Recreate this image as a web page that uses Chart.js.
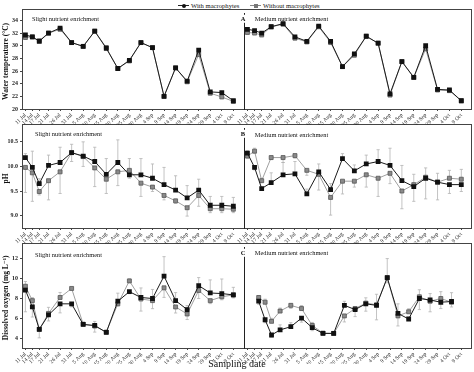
<!DOCTYPE html>
<html><head><meta charset="utf-8">
<script src="https://cdn.jsdelivr.net/npm/chart.js@4"></script>
<style>
html,body{margin:0;padding:0;background:#fff;}
body{width:474px;height:372px;position:relative;overflow:hidden;font-family:"Liberation Serif",serif;color:#111;}
canvas{position:absolute;}
.frame{position:absolute;border:1px solid #444;box-sizing:border-box;pointer-events:none;}
.lg{position:absolute;font-size:6.6px;line-height:8px;white-space:nowrap;}
.ln{position:absolute;height:1px;}
.mk{position:absolute;}
#xt{position:absolute;left:0;width:474px;top:358px;text-align:center;font-size:10px;line-height:12px;}
</style></head><body>

<div class="ln" style="left:178px;top:5px;width:11px;background:#222"></div>
<div class="mk" style="left:181.5px;top:3.5px;width:4px;height:4px;border-radius:2px;background:#111"></div>
<div class="lg" style="left:191px;top:1.5px">With macrophytes</div>
<div class="ln" style="left:250px;top:5px;width:11px;background:#888"></div>
<div class="mk" style="left:253.5px;top:3.5px;width:4px;height:4px;background:#777"></div>
<div class="lg" style="left:263px;top:1.5px">Without macrophytes</div>

<div class="frame" style="left:22px;top:9px;width:450px;height:101px"></div>
<div class="frame" style="left:22px;top:124px;width:450px;height:105px"></div>
<div class="frame" style="left:22px;top:243px;width:450px;height:106px"></div>

<canvas id="c1" width="243" height="116" style="left:0;top:9px"></canvas>
<canvas id="c2" width="235" height="116" style="left:236px;top:9px"></canvas>
<canvas id="c3" width="243" height="120" style="left:0;top:124px"></canvas>
<canvas id="c4" width="235" height="120" style="left:236px;top:124px"></canvas>
<canvas id="c5" width="243" height="121" style="left:0;top:243px"></canvas>
<canvas id="c6" width="235" height="121" style="left:236px;top:243px"></canvas>

<div id="xt">Sampling date</div>

<script>
// ---------- DATA ----------
const dateLabels = ['11 Jul','14 Jul','17 Jul','21 Jul','26 Jul','31 Jul','5 Aug','10 Aug','15 Aug','20 Aug','25 Aug','30 Aug','4 Sep','9 Sep','14 Sep','19 Sep','24 Sep','29 Sep','4 Oct','9 Oct'];
const sampleDays = [0,3,6,10,15,20,25,30,35,40,45,50,55,60,65,70,75,80,85,90];
const seriesNames = ['With macrophytes','Without macrophytes'];
const panelNames = ['Slight nutrient enrichment','Medium nutrient enrichment'];
const panelLetters = ['A','B','C'];

const tempTicks = [20,22,24,26,28,30,32,34];
const phTicks = [9.0,9.5,10.0,10.5];
const doTicks = [4,6,8,10,12];

const tempSlightWith    = [31.7,31.4,30.7,32.0,32.8,30.5,29.9,32.3,29.6,26.4,27.7,30.5,29.7,22.0,26.5,24.4,29.3,22.7,22.6,21.3];
const tempSlightWithout = [31.3,31.4,30.8,32.0,32.6,30.5,29.9,32.3,29.7,26.4,27.6,30.5,29.7,22.0,26.5,24.3,28.6,22.5,21.9,21.2];
const tempMediumWith    = [32.6,32.4,32.0,33.0,33.5,31.4,30.7,33.1,30.7,26.7,28.7,31.5,30.4,22.4,27.5,25.0,30.0,23.1,23.0,21.3];
const tempMediumWithout = [32.1,32.0,31.7,33.0,33.4,31.2,30.6,33.0,30.5,26.7,28.5,31.5,30.4,22.2,27.5,25.0,29.5,23.0,22.9,21.3];

const phSlightWith    = [10.18,9.98,9.65,10.02,10.08,10.28,10.21,10.10,9.84,10.08,9.83,9.83,9.76,9.63,9.52,9.36,9.52,9.21,9.21,9.19];
const phSlightWithout = [9.98,9.87,9.49,9.71,9.89,10.28,10.20,9.97,9.74,9.89,9.92,9.66,9.58,9.41,9.30,9.16,9.41,9.14,9.14,9.13];
const phSlightWithErr    = [0.08,0.33,0.1,0.21,0.31,0.17,0.29,0.29,0.32,0.46,-0.07,0.33,0.29,0.35,0.29,0.25,0.22,0.18,0.18,0.18];
const phSlightWithoutErr = [-0.51,-0.58,-0.07,-0.39,-0.44,-0.18,-0.2,-0.38,-0.29,-0.28,0.24,-0.27,-0.09,-0.09,-0.05,-0.17,-0.22,-0.08,-0.08,-0.07];
const phMediumWith    = [10.27,9.98,9.55,9.67,9.83,9.85,9.44,9.89,9.53,10.16,9.91,10.05,10.10,10.02,9.71,9.59,9.76,9.68,9.63,9.63];
const phMediumWithout = [10.21,10.31,9.71,10.18,10.18,10.22,9.92,9.84,9.37,9.70,9.70,9.83,9.76,9.86,9.50,9.63,9.78,9.68,9.76,9.74];
const phMediumWithErr    = [0.05,-0.05,-0.04,0.2,0.25,0.25,0.1,0.16,0.12,0.1,0.12,0.18,0.24,0.35,0.31,-0.3,-0.42,0.18,-0.18,-0.14];
const phMediumWithoutErr = [-0.04,0.06,0.05,-0.04,-0.1,-0.05,-0.1,-0.32,-0.36,-0.26,-0.12,-0.25,-0.37,-0.21,-0.36,0.21,0.19,-0.36,0.16,0.2];

const doSlightWith    = [8.84,7.16,4.94,6.37,7.47,7.47,5.42,5.32,4.63,7.73,8.68,8.10,8.00,10.23,7.79,6.90,9.28,8.55,8.49,8.36];
const doSlightWithout = [9.22,7.79,4.94,6.52,8.10,9.00,5.45,5.26,4.66,7.47,9.75,7.95,7.79,9.06,7.16,6.46,8.80,7.79,8.17,8.36];
const doSlightWithErr    = [-2.16,-1.0,-0.85,-0.6,-0.9,-0.3,0.15,0.4,0.1,0.8,-0.2,0.95,0.9,1.93,0.8,0.4,0.8,1.3,1.45,0.75];
const doSlightWithoutErr = [0.47,0.3,0.2,0.6,0.5,0.1,-0.15,-0.6,-0.15,-0.2,0.2,-1.2,-0.8,-0.95,-0.6,-0.55,-0.8,-0.3,-0.3,-0.3];
const doMediumWith    = [7.73,5.89,4.37,4.88,5.20,6.05,5.10,4.53,4.53,7.32,6.90,7.47,7.32,10.07,6.52,5.96,8.00,7.85,7.63,7.70];
const doMediumWithout = [8.10,7.63,5.73,6.75,7.32,7.00,5.32,4.56,4.53,6.27,7.00,7.54,7.38,10.07,6.27,6.68,8.17,7.73,8.00,7.63];
const doMediumWithErr    = [-0.3,-0.3,-0.2,0.5,0.4,-0.4,-0.3,0.1,0.1,0.4,0.3,0.6,1.1,1.9,0.95,-0.1,-1.1,0.64,-0.63,0.88];
const doMediumWithoutErr = [0.2,0.3,0.3,0.3,-0.3,0.3,0.3,-0.1,-0.1,-0.6,-0.8,-0.8,-1.5,-0.5,-1.0,0.3,0.7,-1.05,0.68,-0.47];

// ---------- LAYOUT / STYLE ----------
const FONT = '"Liberation Serif", "DejaVu Serif", serif';
const XH = 16;
const LEFT_AXIS_W = 22, RIGHT_AXIS_W = 8;
const X_RANGE = {min:-1.48, max:92.1};
const X_RANGE_R = {min:-1.44, max:92.06};
const X_RANGE_DO_R_DATA = {min:-6.85, max:96.85};

const errBars = {
  id:'errBars',
  beforeDatasetsDraw(chart){
    const ctx = chart.ctx; ctx.save();
    ctx.strokeStyle = '#b4b4b4'; ctx.lineWidth = 0.8;
    chart.data.datasets.forEach((ds,i)=>{
      if(!ds.errs) return;
      const meta = chart.getDatasetMeta(i);
      const ys = chart.scales[meta.yAxisID];
      meta.data.forEach((pt,j)=>{
        const e = ds.errs[j]; if(!e) return;
        const y2 = ys.getPixelForValue(ds.data[j].y + e);
        ctx.beginPath();
        ctx.moveTo(pt.x, pt.y); ctx.lineTo(pt.x, y2);
        ctx.moveTo(pt.x-1.6, y2); ctx.lineTo(pt.x+1.6, y2);
        ctx.stroke();
      });
    });
    ctx.restore();
  }
};

function deco(label, tx, ty, letter){
  return {
    id:'deco',
    afterDraw(chart){
      const {ctx, chartArea:a} = chart;
      ctx.save();
      if(letter){
        ctx.fillStyle = '#fff'; ctx.fillRect(a.left-2, a.top+1, 4, 8);
        ctx.fillStyle = '#111'; ctx.font = 'bold 6.5px ' + FONT;
        ctx.textAlign = 'center'; ctx.textBaseline = 'middle';
        ctx.fillText(letter, a.left-1, a.top+5.5);
      }
      ctx.fillStyle = '#111'; ctx.font = '6.4px ' + FONT;
      ctx.textAlign = 'left'; ctx.textBaseline = 'middle';
      ctx.fillText(label, a.left+tx, a.top+ty);
      ctx.restore();
    }
  };
}

function pts(vals){ return sampleDays.map((d,i)=>({x:d, y:vals[i]})); }

function datasets(w, wo, we, woe, xid){
  return [
    {label:seriesNames[0], data:pts(w), errs:we, xAxisID:xid||'x', borderColor:'#1a1a1a', backgroundColor:'#111', borderWidth:1,
     pointStyle:'rect', pointRadius:3.4, pointBorderWidth:0, pointBackgroundColor:'#111'},
    {label:seriesNames[1], data:pts(wo), errs:woe, xAxisID:xid||'x', borderColor:'#a0a0a0', backgroundColor:'#7a7a7a', borderWidth:1,
     pointStyle:'rect', pointRadius:2.8, pointBorderWidth:0.8, pointBorderColor:'#555', pointBackgroundColor:'#8a8a8a'}
  ];
}

function xAxis(range, show){
  return {
    type:'linear', position:'bottom', min:range.min, max:range.max, display:show,
    afterBuildTicks: s => { s.ticks = sampleDays.map(v=>({value:v})); },
    afterFit: s => { s.height = show ? XH : 0; s.paddingLeft = 0; s.paddingRight = 0; },
    ticks:{autoSkip:false, maxRotation:45, minRotation:45, padding:1, color:'#222',
      font:{family:FONT, size:5.5}, callback:(v,i)=>dateLabels[i]},
    grid:{display:true, drawOnChartArea:false, drawTicks:true, tickLength:2, color:'#444'},
    border:{display:false}
  };
}

function yAxisLeft(ymin, ymax, tickVals, dec, title){
  return {
    type:'linear', position:'left', min:ymin, max:ymax,
    afterBuildTicks: s => { s.ticks = tickVals.map(v=>({value:v})); },
    afterFit: s => { s.width = LEFT_AXIS_W; s.paddingTop = 0; s.paddingBottom = 0; },
    ticks:{padding:2, color:'#222', font:{family:FONT, size:6, weight:'bold'},
      callback: v => v.toFixed(dec)},
    grid:{display:true, drawOnChartArea:false, drawTicks:true, tickLength:2, color:'#444'},
    border:{display:false},
    title:{display:true, text:title, color:'#111', font:{family:FONT, size:7.5, weight:'bold'}, padding:{top:2,bottom:0}}
  };
}

function yAxisRight(ymin, ymax){
  return {
    type:'linear', position:'left', min:ymin, max:ymax,
    afterFit: s => { s.width = RIGHT_AXIS_W; s.paddingTop = 0; s.paddingBottom = 0; },
    ticks:{display:false},
    grid:{display:false},
    border:{display:true, dash:[1.5,1.5], color:'#222', width:1}
  };
}

const baseOpts = {
  responsive:false, animation:false, events:[],
  layout:{padding:0},
  elements:{line:{tension:0}},
  plugins:{legend:{display:false}, tooltip:{enabled:false}}
};

function make(id, data, scales, plugins){
  new Chart(document.getElementById(id), {
    type:'line', data:{datasets:data},
    options:Object.assign({}, baseOpts, {scales}),
    plugins:[errBars].concat(plugins)
  });
}

// Row 1: water temperature
make('c1', datasets(tempSlightWith, tempSlightWithout, null, null),
  {x:xAxis(X_RANGE,true), y:yAxisLeft(20, 35.05, tempTicks, 0, 'Water temperature (°C)')},
  [deco(panelNames[0], 10, 6)]);
make('c2', datasets(tempMediumWith, tempMediumWithout, null, null),
  {x:xAxis(X_RANGE_R,true), y:yAxisRight(20, 35.05)},
  [deco(panelNames[1], 10.7, 6, panelLetters[0])]);

// Row 2: pH
make('c3', datasets(phSlightWith, phSlightWithout, phSlightWithErr, phSlightWithoutErr),
  {x:xAxis(X_RANGE,true), y:yAxisLeft(8.748, 10.765, phTicks, 1, 'pH')},
  [deco(panelNames[0], 13, 6)]);
make('c4', datasets(phMediumWith, phMediumWithout, phMediumWithErr, phMediumWithoutErr),
  {x:xAxis(X_RANGE_R,true), y:yAxisRight(8.748, 10.765)},
  [deco(panelNames[1], 10.7, 6.5, panelLetters[1])]);

// Row 3: dissolved oxygen
make('c5', datasets(doSlightWith, doSlightWithout, doSlightWithErr, doSlightWithoutErr),
  {x:xAxis(X_RANGE,true), y:yAxisLeft(3.08, 13.04, doTicks, 0, 'Dissolved oxygen (mg L⁻¹)')},
  [deco(panelNames[0], 13, 7.5)]);
make('c6', datasets(doMediumWith, doMediumWithout, doMediumWithErr, doMediumWithoutErr, 'xd'),
  {xd:xAxis(X_RANGE_DO_R_DATA,false), x:xAxis(X_RANGE_R,true), y:yAxisRight(3.08, 13.04)},
  [deco(panelNames[1], 10.7, 6, panelLetters[2])]);
</script>
</body></html>
